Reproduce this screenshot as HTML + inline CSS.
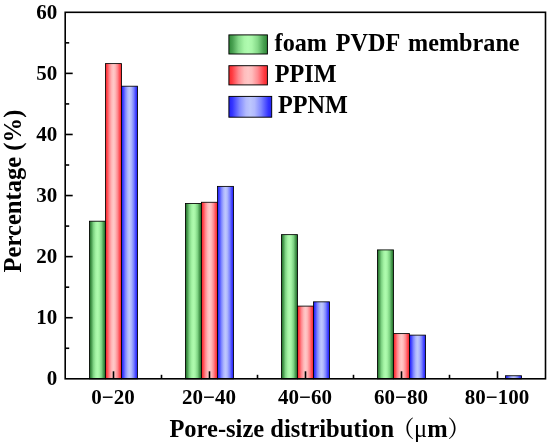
<!DOCTYPE html>
<html><head><meta charset="utf-8"><title>Pore-size distribution</title>
<style>
html,body{margin:0;padding:0;background:#fff;}
svg{display:block;}
text{font-family:"Liberation Serif","Noto Serif CJK SC",serif;font-weight:bold;fill:#000;}
.t{font-size:21px;}
.a{font-size:25px;}
.l{font-size:24.2px;word-spacing:2.7px;}
</style></head><body>
<svg width="550" height="446" viewBox="0 0 550 446">
<defs>
<linearGradient id="gg" x1="0" y1="0" x2="1" y2="0">
<stop offset="0" stop-color="#1c6b22"/><stop offset="0.1" stop-color="#3f9046"/><stop offset="0.25" stop-color="#7fd484"/><stop offset="0.4" stop-color="#a6f5a6"/><stop offset="0.5" stop-color="#adfaad"/><stop offset="0.6" stop-color="#a6f5a6"/><stop offset="0.75" stop-color="#7fd484"/><stop offset="0.9" stop-color="#3f9046"/><stop offset="1" stop-color="#1c6b22"/>
</linearGradient>
<linearGradient id="gr" x1="0" y1="0" x2="1" y2="0">
<stop offset="0" stop-color="#f52a2e"/><stop offset="0.08" stop-color="#ff3a40"/><stop offset="0.25" stop-color="#ff8a90"/><stop offset="0.4" stop-color="#ffbcbc"/><stop offset="0.5" stop-color="#ffc6c6"/><stop offset="0.6" stop-color="#ffbcbc"/><stop offset="0.75" stop-color="#ff8a90"/><stop offset="0.92" stop-color="#ff3a40"/><stop offset="1" stop-color="#f52a2e"/>
</linearGradient>
<linearGradient id="gb" x1="0" y1="0" x2="1" y2="0">
<stop offset="0" stop-color="#2222f5"/><stop offset="0.08" stop-color="#3434ff"/><stop offset="0.25" stop-color="#8088ff"/><stop offset="0.4" stop-color="#b2bafd"/><stop offset="0.5" stop-color="#bcc6fd"/><stop offset="0.6" stop-color="#b2bafd"/><stop offset="0.75" stop-color="#8088ff"/><stop offset="0.92" stop-color="#3434ff"/><stop offset="1" stop-color="#2222f5"/>
</linearGradient>
<linearGradient id="lg" x1="0" y1="0" x2="1" y2="0">
<stop offset="0" stop-color="#2f8a38"/><stop offset="0.1" stop-color="#4aa152"/><stop offset="0.25" stop-color="#84d888"/><stop offset="0.4" stop-color="#a8f6a8"/><stop offset="0.5" stop-color="#b0fbb0"/><stop offset="0.6" stop-color="#a8f6a8"/><stop offset="0.75" stop-color="#84d888"/><stop offset="0.9" stop-color="#4aa152"/><stop offset="1" stop-color="#2f8a38"/>
</linearGradient>
</defs>
<rect x="0" y="0" width="550" height="446" fill="#fff"/>
<rect x="89.45" y="221.21" width="16.03" height="157.59" fill="url(#gg)" stroke="#000" stroke-width="0.85"/>
<rect x="185.45" y="203.49" width="16.03" height="175.31" fill="url(#gg)" stroke="#000" stroke-width="0.85"/>
<rect x="281.45" y="234.64" width="16.03" height="144.16" fill="url(#gg)" stroke="#000" stroke-width="0.85"/>
<rect x="377.45" y="249.91" width="16.03" height="128.89" fill="url(#gg)" stroke="#000" stroke-width="0.85"/>
<rect x="105.48" y="63.61" width="16.03" height="315.19" fill="url(#gr)" stroke="#000" stroke-width="0.85"/>
<rect x="201.49" y="202.27" width="16.03" height="176.53" fill="url(#gr)" stroke="#000" stroke-width="0.85"/>
<rect x="297.49" y="306.11" width="16.03" height="72.69" fill="url(#gr)" stroke="#000" stroke-width="0.85"/>
<rect x="393.49" y="333.60" width="16.03" height="45.20" fill="url(#gr)" stroke="#000" stroke-width="0.85"/>
<rect x="121.52" y="86.21" width="16.03" height="292.59" fill="url(#gb)" stroke="#000" stroke-width="0.85"/>
<rect x="217.51" y="186.39" width="16.03" height="192.41" fill="url(#gb)" stroke="#000" stroke-width="0.85"/>
<rect x="313.51" y="301.84" width="16.03" height="76.96" fill="url(#gb)" stroke="#000" stroke-width="0.85"/>
<rect x="409.51" y="335.13" width="16.03" height="43.67" fill="url(#gb)" stroke="#000" stroke-width="0.85"/>
<rect x="505.51" y="375.75" width="16.03" height="3.05" fill="url(#gb)" stroke="#000" stroke-width="0.85"/>
<rect x="65.2" y="12.3" width="480.30" height="366.50" fill="none" stroke="#000" stroke-width="1.6"/>
<text class="t" x="57.2" y="385.20" text-anchor="end">0</text>
<line x1="65.2" y1="348.26" x2="69.2" y2="348.26" stroke="#000" stroke-width="1.6"/>
<line x1="65.2" y1="317.72" x2="72.7" y2="317.72" stroke="#000" stroke-width="1.6"/>
<text class="t" x="57.2" y="324.12" text-anchor="end">10</text>
<line x1="65.2" y1="287.18" x2="69.2" y2="287.18" stroke="#000" stroke-width="1.6"/>
<line x1="65.2" y1="256.63" x2="72.7" y2="256.63" stroke="#000" stroke-width="1.6"/>
<text class="t" x="57.2" y="263.03" text-anchor="end">20</text>
<line x1="65.2" y1="226.09" x2="69.2" y2="226.09" stroke="#000" stroke-width="1.6"/>
<line x1="65.2" y1="195.55" x2="72.7" y2="195.55" stroke="#000" stroke-width="1.6"/>
<text class="t" x="57.2" y="201.95" text-anchor="end">30</text>
<line x1="65.2" y1="165.01" x2="69.2" y2="165.01" stroke="#000" stroke-width="1.6"/>
<line x1="65.2" y1="134.47" x2="72.7" y2="134.47" stroke="#000" stroke-width="1.6"/>
<text class="t" x="57.2" y="140.87" text-anchor="end">40</text>
<line x1="65.2" y1="103.92" x2="69.2" y2="103.92" stroke="#000" stroke-width="1.6"/>
<line x1="65.2" y1="73.38" x2="72.7" y2="73.38" stroke="#000" stroke-width="1.6"/>
<text class="t" x="57.2" y="79.78" text-anchor="end">50</text>
<line x1="65.2" y1="42.84" x2="69.2" y2="42.84" stroke="#000" stroke-width="1.6"/>
<text class="t" x="57.2" y="18.70" text-anchor="end">60</text>
<line x1="113.50" y1="378.8" x2="113.50" y2="371.3" stroke="#000" stroke-width="1.6"/>
<text class="t" x="113.10" y="404.1" text-anchor="middle">0−20</text>
<line x1="161.50" y1="378.8" x2="161.50" y2="374.8" stroke="#000" stroke-width="1.6"/>
<line x1="209.50" y1="378.8" x2="209.50" y2="371.3" stroke="#000" stroke-width="1.6"/>
<text class="t" x="209.10" y="404.1" text-anchor="middle">20−40</text>
<line x1="257.50" y1="378.8" x2="257.50" y2="374.8" stroke="#000" stroke-width="1.6"/>
<line x1="305.50" y1="378.8" x2="305.50" y2="371.3" stroke="#000" stroke-width="1.6"/>
<text class="t" x="305.10" y="404.1" text-anchor="middle">40−60</text>
<line x1="353.50" y1="378.8" x2="353.50" y2="374.8" stroke="#000" stroke-width="1.6"/>
<line x1="401.50" y1="378.8" x2="401.50" y2="371.3" stroke="#000" stroke-width="1.6"/>
<text class="t" x="401.10" y="404.1" text-anchor="middle">60−80</text>
<line x1="449.50" y1="378.8" x2="449.50" y2="374.8" stroke="#000" stroke-width="1.6"/>
<line x1="497.50" y1="378.8" x2="497.50" y2="371.3" stroke="#000" stroke-width="1.6"/>
<text class="t" x="497.10" y="404.1" text-anchor="middle">80−100</text>
<text class="a" x="169.4" y="437" style="font-size:24.5px">Pore-size distribution<tspan x="391.4" y="436.8" style="font-size:23px;font-weight:500">（</tspan><tspan x="414" y="437" style="font-weight:normal">μ</tspan><tspan x="427.2" y="437">m</tspan><tspan x="447.6" y="436.8" style="font-size:23px;font-weight:500">）</tspan></text>
<text class="a" transform="translate(20.5,272.4) rotate(-90)" style="font-size:24.6px">Percentage (%)</text>
<rect x="228.9" y="34.9" width="38.5" height="19.1" fill="url(#lg)" stroke="#000" stroke-width="0.95"/>
<rect x="228.9" y="65.7" width="38.5" height="19.2" fill="url(#gr)" stroke="#000" stroke-width="0.95"/>
<rect x="228.9" y="96.4" width="42.8" height="20.8" fill="url(#gb)" stroke="#000" stroke-width="0.95"/>
<text class="l" x="274.6" y="51.2">foam PVDF membrane</text>
<text class="l" x="274.8" y="82.3">PPIM</text>
<text class="l" x="277.9" y="113.3">PPNM</text>
</svg>
</body></html>
